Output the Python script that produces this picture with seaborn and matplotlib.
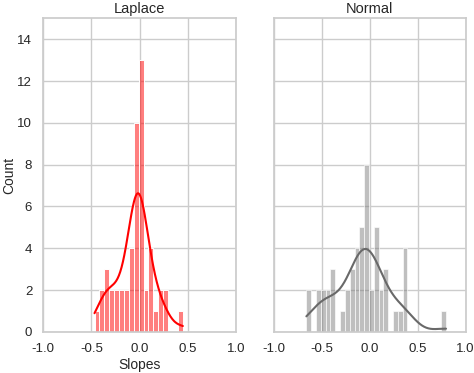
import numpy as np
import pandas as pd
import matplotlib
matplotlib.use("Agg")
import matplotlib.pyplot as plt
import seaborn as sns

# Slope samples (value per bin, count per bin)
laplace_values = [-0.468, -0.393, -0.343, -0.293, -0.243, -0.193, -0.143,
                  -0.093, -0.043, 0.007, 0.057, 0.107, 0.157, 0.207, 0.257,
                  0.450]
laplace_counts = [1, 2, 3, 2, 2, 2, 2, 4, 10, 13, 2, 4, 1, 2, 2, 1]

normal_values = [-0.662, -0.637, -0.537, -0.487, -0.437, -0.387, -0.287,
                 -0.237, -0.187, -0.137, -0.087, -0.037, 0.013, 0.063,
                 0.113, 0.163, 0.263, 0.313, 0.363, 0.795]
normal_counts = [1, 1, 2, 2, 2, 3, 1, 2, 3, 4, 5, 8, 2, 5, 2, 3, 1, 1, 4, 1]

titles = ["Laplace", "Normal"]
bar_colors = ["red", "gray"]
line_colors = ["red", "dimgray"]
bw_adjusts = [1.1, 1.0]
x_ticks = [-1.0, -0.5, 0.0, 0.5, 1.0]
y_ticks = [0, 2, 4, 6, 8, 10, 12, 14]

laplace = np.repeat(laplace_values, laplace_counts)
normal = np.repeat(normal_values, normal_counts)

sns.set_theme(style="whitegrid")
plt.rcParams["font.family"] = ["Liberation Sans", "DejaVu Sans"]

fig = plt.figure(figsize=(4.74, 3.73), dpi=100)
ax1 = fig.add_axes([0.0914, 0.110, 0.406, 0.841])
ax2 = fig.add_axes([0.578, 0.110, 0.4044, 0.841], sharey=ax1)

for ax, data, title, bc, lc, bw in zip([ax1, ax2], [laplace, normal], titles,
                                       bar_colors, line_colors, bw_adjusts):
    df = pd.DataFrame({"Slopes": data})
    sns.histplot(data=df, x="Slopes", binwidth=0.05, kde=True, color=bc,
                 alpha=0.5, ax=ax, kde_kws={"bw_adjust": bw},
                 line_kws={"linewidth": 1.5})
    ax.lines[-1].set_color(lc)
    ax.set_title(title, fontsize=10.5, pad=4)
    ax.set_xlim(-1, 1)
    ax.set_xticks(x_ticks)
    ax.set_xticklabels([f"{t:.1f}" for t in x_ticks])
    ax.tick_params(labelsize=9.5, pad=2)

ax1.set_ylim(0, 15)
ax1.set_yticks(y_ticks)
ax1.set_ylabel("Count", fontsize=10, labelpad=1)
ax1.set_xlabel("Slopes", fontsize=10, labelpad=2)
ax2.set_xlabel("")
ax2.set_ylabel("")
ax2.tick_params(axis="y", labelleft=False)

fig.savefig("out.png", dpi=100)
